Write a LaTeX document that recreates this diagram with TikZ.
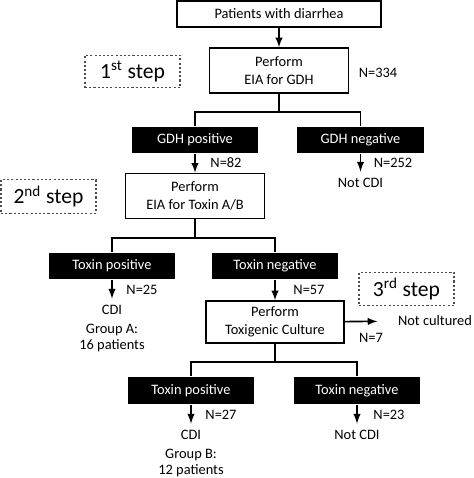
\documentclass[tikz,border=0pt]{standalone}
\usepackage{fontspec}
\setmainfont{Carlito}
\usepackage{tikz}

\begin{document}
\begin{tikzpicture}[x=0.02cm, y=-0.02cm, >=latex, line width=0.9pt,
  every node/.style={font=\fontsize{8.2}{10.2}\selectfont},
  box/.style={draw, align=center, minimum width=2.78cm, minimum height=0.9cm},
  resultbox/.style={fill=black, text=white, minimum width=2.54cm, minimum height=0.53cm},
  stepbox/.style={draw=gray!60!black, dash pattern=on 1.2pt off 1.2pt, line width=0.7pt, minimum width=1.9cm, minimum height=0.65cm, font=\fontsize{12.3}{14}\selectfont},
  outcome/.style={align=center, font=\fontsize{8.2}{8.6}\selectfont}]
\useasboundingbox (0,0) rectangle (474,478);
%1st step
\node [box, minimum width=4.08cm, minimum height=0.52cm] (patients) at (279,14) {Patients with diarrhea};
\node [box] (eiagdh) at (279,70.5) {Perform\\EIA for GDH};
\node (n334) at (378,73) {N=334};
\node [stepbox] (step1) at (132.5,71.5) {1\textsuperscript{st} step};
\draw [->] (patients) -- (eiagdh);
%GDH split
\coordinate (split1) at (279,112);
\node [resultbox] (gdhpos) at (195,140) {GDH positive};
\node [resultbox] (gdhneg) at (360.5,140) {GDH negative};
\draw (eiagdh) -- (split1);
\draw (gdhpos.north) |- (split1) -| (gdhneg.north);
%2nd step
\node [box] (eiatox) at (195,196) {Perform\\EIA for Toxin A/B};
\node (n82) at (226,163) {N=82};
\node (n252) at (393,163) {N=252};
\node (notcdi1) at (360.5,183) {Not CDI};
\node [stepbox] (step2) at (48.5,196.5) {2\textsuperscript{nd} step};
\draw [->] (gdhpos) -- (eiatox);
\draw [->] (gdhneg) -- (notcdi1);
%toxin split
\coordinate (split2) at (195,238);
\node [resultbox] (toxpos1) at (112,266) {Toxin positive};
\node [resultbox] (toxneg1) at (275,266) {Toxin negative};
\draw (eiatox) -- (split2);
\draw (toxpos1.north) |- (split2) -| (toxneg1.north);
\node (n25) at (142,290) {N=25};
\node (n57) at (309,290) {N=57};
\node (cdia) at (112,310) {CDI};
\node [outcome] (groupa) at (112,338) {Group A:\\16 patients};
\draw [->] (toxpos1) -- (cdia);
%3rd step
\node [box, minimum width=2.76cm, minimum height=0.84cm] (culture) at (275,322) {Perform\\Toxigenic Culture};
\node [stepbox] (step3) at (406.5,289) {3\textsuperscript{rd} step};
\node (notcult) at (435,321) {Not cultured};
\node (n7) at (371,338) {N=7};
\draw [->] (toxneg1) -- (culture);
\draw [->, shorten >=0.28cm] (culture) -- (notcult);
%culture split
\coordinate (split3) at (275,362);
\node [resultbox] (toxpos2) at (191,390.5) {Toxin positive};
\node [resultbox] (toxneg2) at (357,390.5) {Toxin negative};
\draw (culture) -- (split3);
\draw (toxpos2.north) |- (split3) -| (toxneg2.north);
\node (n27) at (221,415) {N=27};
\node (n23) at (389,415) {N=23};
\node (cdib) at (191,435) {CDI};
\node [outcome] (groupb) at (191,463) {Group B:\\12 patients};
\node (notcdi2) at (357,435) {Not CDI};
\draw [->] (toxpos2) -- (cdib);
\draw [->] (toxneg2) -- (notcdi2);
\end{tikzpicture}
\end{document}
